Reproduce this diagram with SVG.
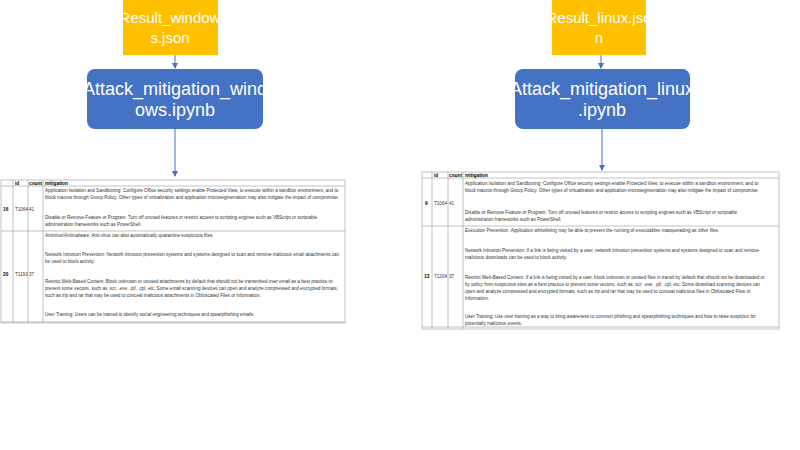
<svg xmlns="http://www.w3.org/2000/svg" width="800" height="450" viewBox="0 0 800 450">
<style>
.y{fill:#FFC000}
.b{fill:#4472C4}
.yt{font-family:"Liberation Sans",Arial,sans-serif;font-size:15px;fill:#fff;text-anchor:middle}
.bt{font-family:"Liberation Sans",Arial,sans-serif;font-size:18px;fill:#fff;text-anchor:middle}
.c{stroke:#4472C4;stroke-width:1;fill:none}
.g{stroke:#999;stroke-width:0.6;fill:#fff}
.l{stroke:#999;stroke-width:0.6}
.t{font-family:"Liberation Sans",Arial,sans-serif;font-size:4.6px;fill:#333}
.h{font-family:"Liberation Sans",Arial,sans-serif;font-size:4.8px;fill:#000;font-weight:bold}
</style>
<defs><marker id="a" markerWidth="6" markerHeight="6" refX="5" refY="3" orient="auto" markerUnits="userSpaceOnUse"><path d="M0,0 L6,3 L0,6 z" fill="#4472C4"/></marker></defs>
<g id="connectors">
<line class="c" x1="175" y1="55" x2="175" y2="68" marker-end="url(#a)"/>
<line class="c" x1="175" y1="129" x2="175" y2="176" marker-end="url(#a)"/>
<line class="c" x1="601" y1="55" x2="601" y2="68" marker-end="url(#a)"/>
<line class="c" x1="602" y1="129" x2="602" y2="170" marker-end="url(#a)"/>
</g>
<g id="result_windows"><rect class="y" x="123" y="0" width="95" height="55"/><text class="yt" x="170" y="23">Result_window</text><text class="yt" x="170" y="43">s.json</text></g>
<g id="attack_windows"><rect class="b" x="87" y="69" width="176" height="60" rx="8"/><text class="bt" x="175" y="95">Attack_mitigation_wind</text><text class="bt" x="175" y="116">ows.ipynb</text></g>
<g id="result_linux"><rect class="y" x="552" y="0" width="94" height="55"/><text class="yt" x="599" y="23">Result_linux.jso</text><text class="yt" x="599" y="43">n</text></g>
<g id="attack_linux"><rect class="b" x="515" y="69" width="175" height="60" rx="8"/><text class="bt" x="602" y="95">Attack_mitigation_linux</text><text class="bt" x="602" y="116">.ipynb</text></g>
<g id="table_windows">
<rect class="g" x="1" y="180" width="344" height="143"/>
<line class="l" x1="1" y1="186" x2="345" y2="186"/>
<line class="l" x1="1" y1="231" x2="345" y2="231"/>
<line class="l" x1="1" y1="322" x2="345" y2="322"/>
<line class="l" x1="13" y1="180" x2="13" y2="323"/>
<line class="l" x1="28" y1="180" x2="28" y2="323"/>
<line class="l" x1="43" y1="180" x2="43" y2="323"/>
<text class="h" x="15" y="185">id</text><text class="h" x="29" y="185">count</text><text class="h" x="45" y="185">mitigation</text>
<text class="h" x="3" y="211">16</text><text class="t" x="15" y="211">T1064</text><text class="t" x="29" y="211">41</text>
<text class="t" x="45" y="192">Application Isolation and Sandboxing: Configure Office security settings enable Protected View, to execute within a sandbox environment, and to</text>
<text class="t" x="45" y="199">block macros through Group Policy. Other types of virtualization and application microsegmentation may also mitigate the impact of compromise.</text>
<text class="t" x="45" y="219">Disable or Remove Feature or Program: Turn off unused features or restrict access to scripting engines such as VBScript or scriptable</text>
<text class="t" x="45" y="226">administration frameworks such as PowerShell.</text>
<text class="h" x="3" y="276">20</text><text class="t" x="15" y="276">T1193</text><text class="t" x="29" y="276">37</text>
<text class="t" x="45" y="237">Antivirus/Antimalware: Anti-virus can also automatically quarantine suspicious files.</text>
<text class="t" x="45" y="256">Network Intrusion Prevention: Network intrusion prevention systems and systems designed to scan and remove malicious email attachments can</text>
<text class="t" x="45" y="263">be used to block activity.</text>
<text class="t" x="45" y="283">Restrict Web-Based Content: Block unknown or unused attachments by default that should not be transmitted over email as a best practice to</text>
<text class="t" x="45" y="290">prevent some vectors, such as .scr, .exe, .pif, .cpl, etc. Some email scanning devices can open and analyze compressed and encrypted formats,</text>
<text class="t" x="45" y="297">such as zip and rar that may be used to conceal malicious attachments in Obfuscated Files or Information.</text>
<text class="t" x="45" y="316">User Training: Users can be trained to identify social engineering techniques and spearphishing emails.</text>
</g>
<g id="table_linux">
<rect class="g" x="422" y="172" width="357" height="157"/>
<line class="l" x1="422" y1="178" x2="779" y2="178"/>
<line class="l" x1="422" y1="226" x2="779" y2="226"/>
<line class="l" x1="422" y1="327" x2="779" y2="327"/>
<line class="l" x1="432" y1="172" x2="432" y2="329"/>
<line class="l" x1="448" y1="172" x2="448" y2="329"/>
<line class="l" x1="463" y1="172" x2="463" y2="329"/>
<text class="h" x="434" y="177">id</text><text class="h" x="449" y="177">count</text><text class="h" x="465" y="177">mitigation</text>
<text class="h" x="425" y="205">9</text><text class="t" x="434" y="205">T1064</text><text class="t" x="449" y="205">41</text>
<text class="t" x="465" y="185">Application Isolation and Sandboxing: Configure Office security settings enable Protected View, to execute within a sandbox environment, and to</text>
<text class="t" x="465" y="192">block macros through Group Policy. Other types of virtualization and application microsegmentation may also mitigate the impact of compromise.</text>
<text class="t" x="465" y="214">Disable or Remove Feature or Program: Turn off unused features or restrict access to scripting engines such as VBScript or scriptable</text>
<text class="t" x="465" y="221">administration frameworks such as PowerShell.</text>
<text class="h" x="424" y="278">13</text><text class="t" x="434" y="278">T1204</text><text class="t" x="449" y="278">37</text>
<text class="t" x="465" y="232">Execution Prevention: Application whitelisting may be able to prevent the running of executables masquerading as other files.</text>
<text class="t" x="465" y="252">Network Intrusion Prevention: If a link is being visited by a user, network intrusion prevention systems and systems designed to scan and remove</text>
<text class="t" x="465" y="259">malicious downloads can be used to block activity.</text>
<text class="t" x="465" y="279">Restrict Web-Based Content: If a link is being visited by a user, block unknown or unused files in transit by default that should not be downloaded or</text>
<text class="t" x="465" y="286">by policy from suspicious sites as a best practice to prevent some vectors, such as .scr, .exe, .pif, .cpl, etc. Some download scanning devices can</text>
<text class="t" x="465" y="293">open and analyze compressed and encrypted formats, such as zip and rar that may be used to conceal malicious files in Obfuscated Files or</text>
<text class="t" x="465" y="300">Information.</text>
<text class="t" x="465" y="318">User Training: Use user training as a way to bring awareness to common phishing and spearphishing techniques and how to raise suspicion for</text>
<text class="t" x="465" y="325">potentially malicious events.</text>
</g>
</svg>
